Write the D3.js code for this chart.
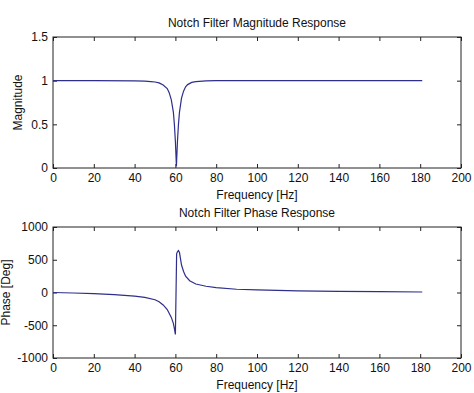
<html>
<head>
  <meta charset="utf-8">
  <title> Notch Filter Response </title>
  <script src="https://d3js.org/d3.v7.min.js"></script>
  <style>
    body{ margin: 0; background: white; }
    text{ font-family: "Liberation Sans", Arial, sans-serif; fill: #111; }
    .axis text{ font-size: 12px; }
    .axis line{ stroke: #222; }
  </style>
</head>
<body>
  <svg id="chart" width="474" height="393"></svg>
  <script>
    // values
    const magFreq  = [0, 20, 40, 45, 48, 50, 52, 54, 56, 57, 58, 59, 59.5, 60, 60.5, 61, 61.5, 62, 63, 64, 65, 66, 68, 70, 75, 80, 100, 120, 140, 160, 181];
    const magValue = [1, 1, 0.998, 0.995, 0.99, 0.985, 0.975, 0.95, 0.91, 0.86, 0.78, 0.64, 0.5, 0.3, 0.02, 0.3, 0.5, 0.64, 0.8, 0.88, 0.93, 0.955, 0.98, 0.99, 0.997, 1, 1, 1, 1, 1, 1];

    const phaseFreq  = [0, 10, 20, 30, 40, 45, 50, 52, 54, 56, 57, 58, 59, 59.5, 60, 60.6, 61, 61.5, 62, 63, 64, 65, 67, 70, 75, 80, 90, 100, 120, 140, 160, 181];
    const phaseValue = [0, -8, -18, -32, -55, -75, -110, -140, -190, -260, -320, -380, -470, -550, -640, 590, 620, 640, 610, 420, 320, 250, 180, 130, 95, 75, 50, 40, 25, 18, 12, 8];

    const xTicks = [0, 20, 40, 60, 80, 100, 120, 140, 160, 180, 200];
    const magTicks = [0, 0.5, 1, 1.5];
    const phaseTicks = [-1000, -500, 0, 500, 1000];

    const svg = d3.select("#chart");
    const left = 53, right = 461;

    function drawPanel(cfg){
      let g = svg.append("g");
      let x = d3.scaleLinear().domain([0, 200]).range([left, right]);
      let y = d3.scaleLinear().domain(cfg.yDomain).range([cfg.bottom, cfg.top]);

      // ticks pointing inward, on all four sides
      g.append("g").attr("class", "axis")
        .attr("transform", `translate(0,${cfg.bottom})`)
        .call(d3.axisBottom(x).tickValues(xTicks).tickSize(-4).tickPadding(5))
        .call(a => a.select(".domain").remove());
      g.append("g").attr("class", "axis")
        .attr("transform", `translate(0,${cfg.top})`)
        .call(d3.axisTop(x).tickValues(xTicks).tickSize(-4).tickFormat(""))
        .call(a => a.select(".domain").remove());
      g.append("g").attr("class", "axis")
        .attr("transform", `translate(${left},0)`)
        .call(d3.axisLeft(y).tickValues(cfg.yTicks).tickSize(-4).tickPadding(5).tickFormat(d => String(d)))
        .call(a => a.select(".domain").remove());
      g.append("g").attr("class", "axis")
        .attr("transform", `translate(${right},0)`)
        .call(d3.axisRight(y).tickValues(cfg.yTicks).tickSize(-4).tickFormat(""))
        .call(a => a.select(".domain").remove());

      g.append("rect")
        .attr("x", left).attr("y", cfg.top)
        .attr("width", right - left).attr("height", cfg.bottom - cfg.top)
        .attr("fill", "none").attr("stroke", "#222").attr("stroke-width", 1);

      let line = d3.line().x(d => x(d[0])).y(d => y(d[1]));
      g.append("path")
        .datum(d3.zip(cfg.xs, cfg.ys))
        .attr("d", line)
        .attr("fill", "none")
        .attr("stroke", "#2e2e8c")
        .attr("stroke-width", 1.2);

      g.append("text")
        .attr("x", (left + right) / 2).attr("y", cfg.top - 10)
        .attr("text-anchor", "middle").attr("font-size", 12)
        .text(cfg.title);
      g.append("text")
        .attr("x", (left + right) / 2).attr("y", cfg.bottom + 31)
        .attr("text-anchor", "middle").attr("font-size", 12)
        .text("Frequency [Hz]");
      g.append("text")
        .attr("transform", `translate(${cfg.yLabelX},${(cfg.top + cfg.bottom) / 2}) rotate(-90)`)
        .attr("text-anchor", "middle").attr("font-size", 12)
        .text(cfg.yLabel);
    }

    drawPanel({
      top: 37, bottom: 168, yDomain: [0, 1.5], yTicks: magTicks,
      xs: magFreq, ys: magValue,
      title: "Notch Filter Magnitude Response", yLabel: "Magnitude", yLabelX: 22
    });
    drawPanel({
      top: 227, bottom: 358, yDomain: [-1000, 1000], yTicks: phaseTicks,
      xs: phaseFreq, ys: phaseValue,
      title: "Notch Filter Phase Response", yLabel: "Phase [Deg]", yLabelX: 10
    });
  </script>
</body>
</html>
